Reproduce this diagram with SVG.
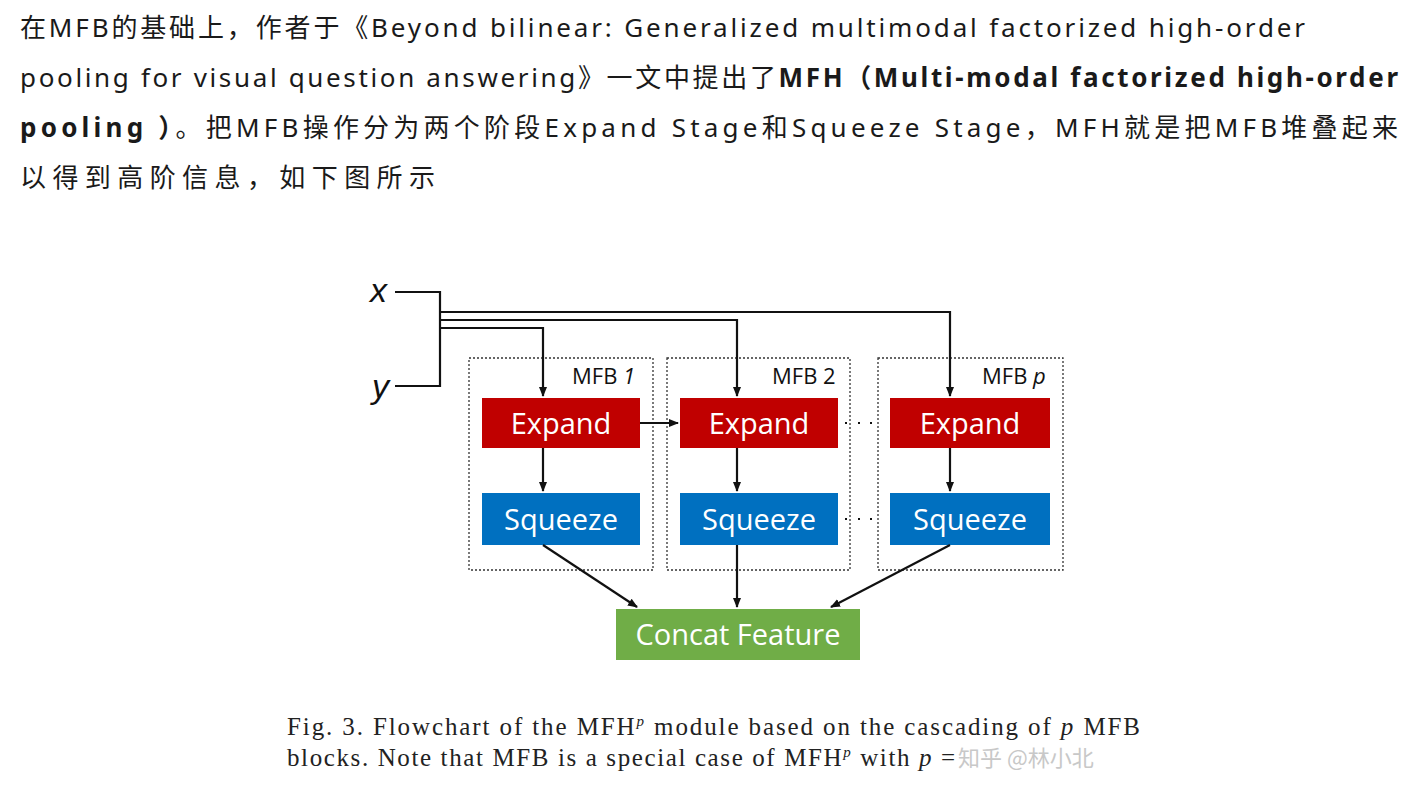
<svg xmlns="http://www.w3.org/2000/svg" width="1424" height="800" viewBox="0 0 1424 800">
<style>
.t{font-family:"Noto Sans","Noto Sans CJK SC",sans-serif;font-size:26px;fill:#1a1a1a}
.b{font-weight:bold}
.box{font-family:"Open Sans","Noto Sans",sans-serif;font-size:29px;fill:#fff;text-anchor:middle}
.lbl{font-family:"Open Sans","Noto Sans",sans-serif;font-size:22px;fill:#111}
.cap{font-family:"Liberation Serif",serif;font-size:25px;fill:#222}
.ln{stroke:#111;stroke-width:2.2;fill:none}
.dot{stroke:#333;stroke-width:1.3;fill:none;stroke-dasharray:2 2}
</style>
<defs><marker id="a" markerWidth="10" markerHeight="10" refX="9" refY="5" orient="auto" markerUnits="userSpaceOnUse"><path d="M0,1 L10,5 L0,9 z" fill="#111"/></marker></defs>
<rect width="1424" height="800" fill="#fff"/>
<text class="t" x="20" y="37" textLength="1285" lengthAdjust="spacing">在MFB的基础上，作者于《Beyond bilinear: Generalized multimodal factorized high-order</text>
<text class="t" x="20" y="87" textLength="1378" lengthAdjust="spacing">pooling for visual question answering》一文中提出了<tspan class="b">MFH（Multi-modal factorized high-order</tspan></text>
<text class="t" x="20" y="137" textLength="1378" lengthAdjust="spacing"><tspan class="b">pooling ）</tspan>。把MFB操作分为两个阶段Expand Stage和Squeeze Stage，MFH就是把MFB堆叠起来</text>
<text class="t" x="20" y="187" textLength="415" lengthAdjust="spacing">以得到高阶信息，如下图所示</text>

<text x="370" y="302" font-family="Liberation Sans,sans-serif" font-style="italic" font-size="34" fill="#111">x</text>
<text x="372" y="398" font-family="Liberation Sans,sans-serif" font-style="italic" font-size="34" fill="#111">y</text>

<g id="mfb1"><rect class="dot" x="469" y="358" width="184" height="212"/><text class="lbl" x="572" y="384">MFB <tspan font-style="italic">1</tspan></text></g>
<g id="mfb2"><rect class="dot" x="667" y="358" width="183" height="212"/><text class="lbl" x="772" y="384">MFB 2</text></g>
<g id="mfbp"><rect class="dot" x="878" y="358" width="185" height="212"/><text class="lbl" x="982" y="384">MFB <tspan font-style="italic">p</tspan></text></g>
<g id="expand1"><rect x="482" y="398" width="158" height="50" fill="#c00000"/><text class="box" x="561" y="434">Expand</text></g>
<g id="expand2"><rect x="680" y="398" width="158" height="50" fill="#c00000"/><text class="box" x="759" y="434">Expand</text></g>
<g id="expand3"><rect x="890" y="398" width="160" height="50" fill="#c00000"/><text class="box" x="970" y="434">Expand</text></g>
<g id="squeeze1"><rect x="482" y="493" width="158" height="52" fill="#0070c0"/><text class="box" x="561" y="530">Squeeze</text></g>
<g id="squeeze2"><rect x="680" y="493" width="158" height="52" fill="#0070c0"/><text class="box" x="759" y="530">Squeeze</text></g>
<g id="squeeze3"><rect x="890" y="493" width="160" height="52" fill="#0070c0"/><text class="box" x="970" y="530">Squeeze</text></g>
<g id="concat"><rect x="616" y="609" width="244" height="51" fill="#70ad47"/><text class="box" x="738" y="645">Concat Feature</text></g>

<g id="connectors">
<path class="ln" d="M395,292 H440 V386 H395"/>
<path class="ln" d="M440,312 H950 V396" marker-end="url(#a)"/>
<path class="ln" d="M440,320 H737 V396" marker-end="url(#a)"/>
<path class="ln" d="M440,328 H543 V396" marker-end="url(#a)"/>
<path class="ln" d="M640,423 H678" marker-end="url(#a)"/>
<path class="ln" d="M543,448 V491" marker-end="url(#a)"/>
<path class="ln" d="M737,448 V491" marker-end="url(#a)"/>
<path class="ln" d="M950,448 V491" marker-end="url(#a)"/>
<path class="ln" d="M543,545 L637,607" marker-end="url(#a)"/>
<path class="ln" d="M737,545 V607" marker-end="url(#a)"/>
<path class="ln" d="M950,545 L831,607" marker-end="url(#a)"/>
<path class="ln" d="M845,423 h2 M858,423 h2 M870,423 h2 M845,519 h2 M858,519 h2 M870,519 h2"/>
</g>

<text class="cap" x="287" y="735" textLength="853" lengthAdjust="spacing">Fig. 3.  Flowchart of the MFH<tspan font-style="italic" font-size="15" dy="-9">p</tspan><tspan dy="9"> module based on the cascading of </tspan><tspan font-style="italic">p</tspan> MFB</text>
<text class="cap" x="287" y="766" textLength="668" lengthAdjust="spacing">blocks. Note that MFB is a special case of MFH<tspan font-style="italic" font-size="15" dy="-9">p</tspan><tspan dy="9"> with </tspan><tspan font-style="italic">p</tspan> =</text>
<text x="958" y="766" font-family="Noto Sans CJK SC,sans-serif" font-size="22" fill="#c8c8c8">知乎 @林小北</text>
</svg>
